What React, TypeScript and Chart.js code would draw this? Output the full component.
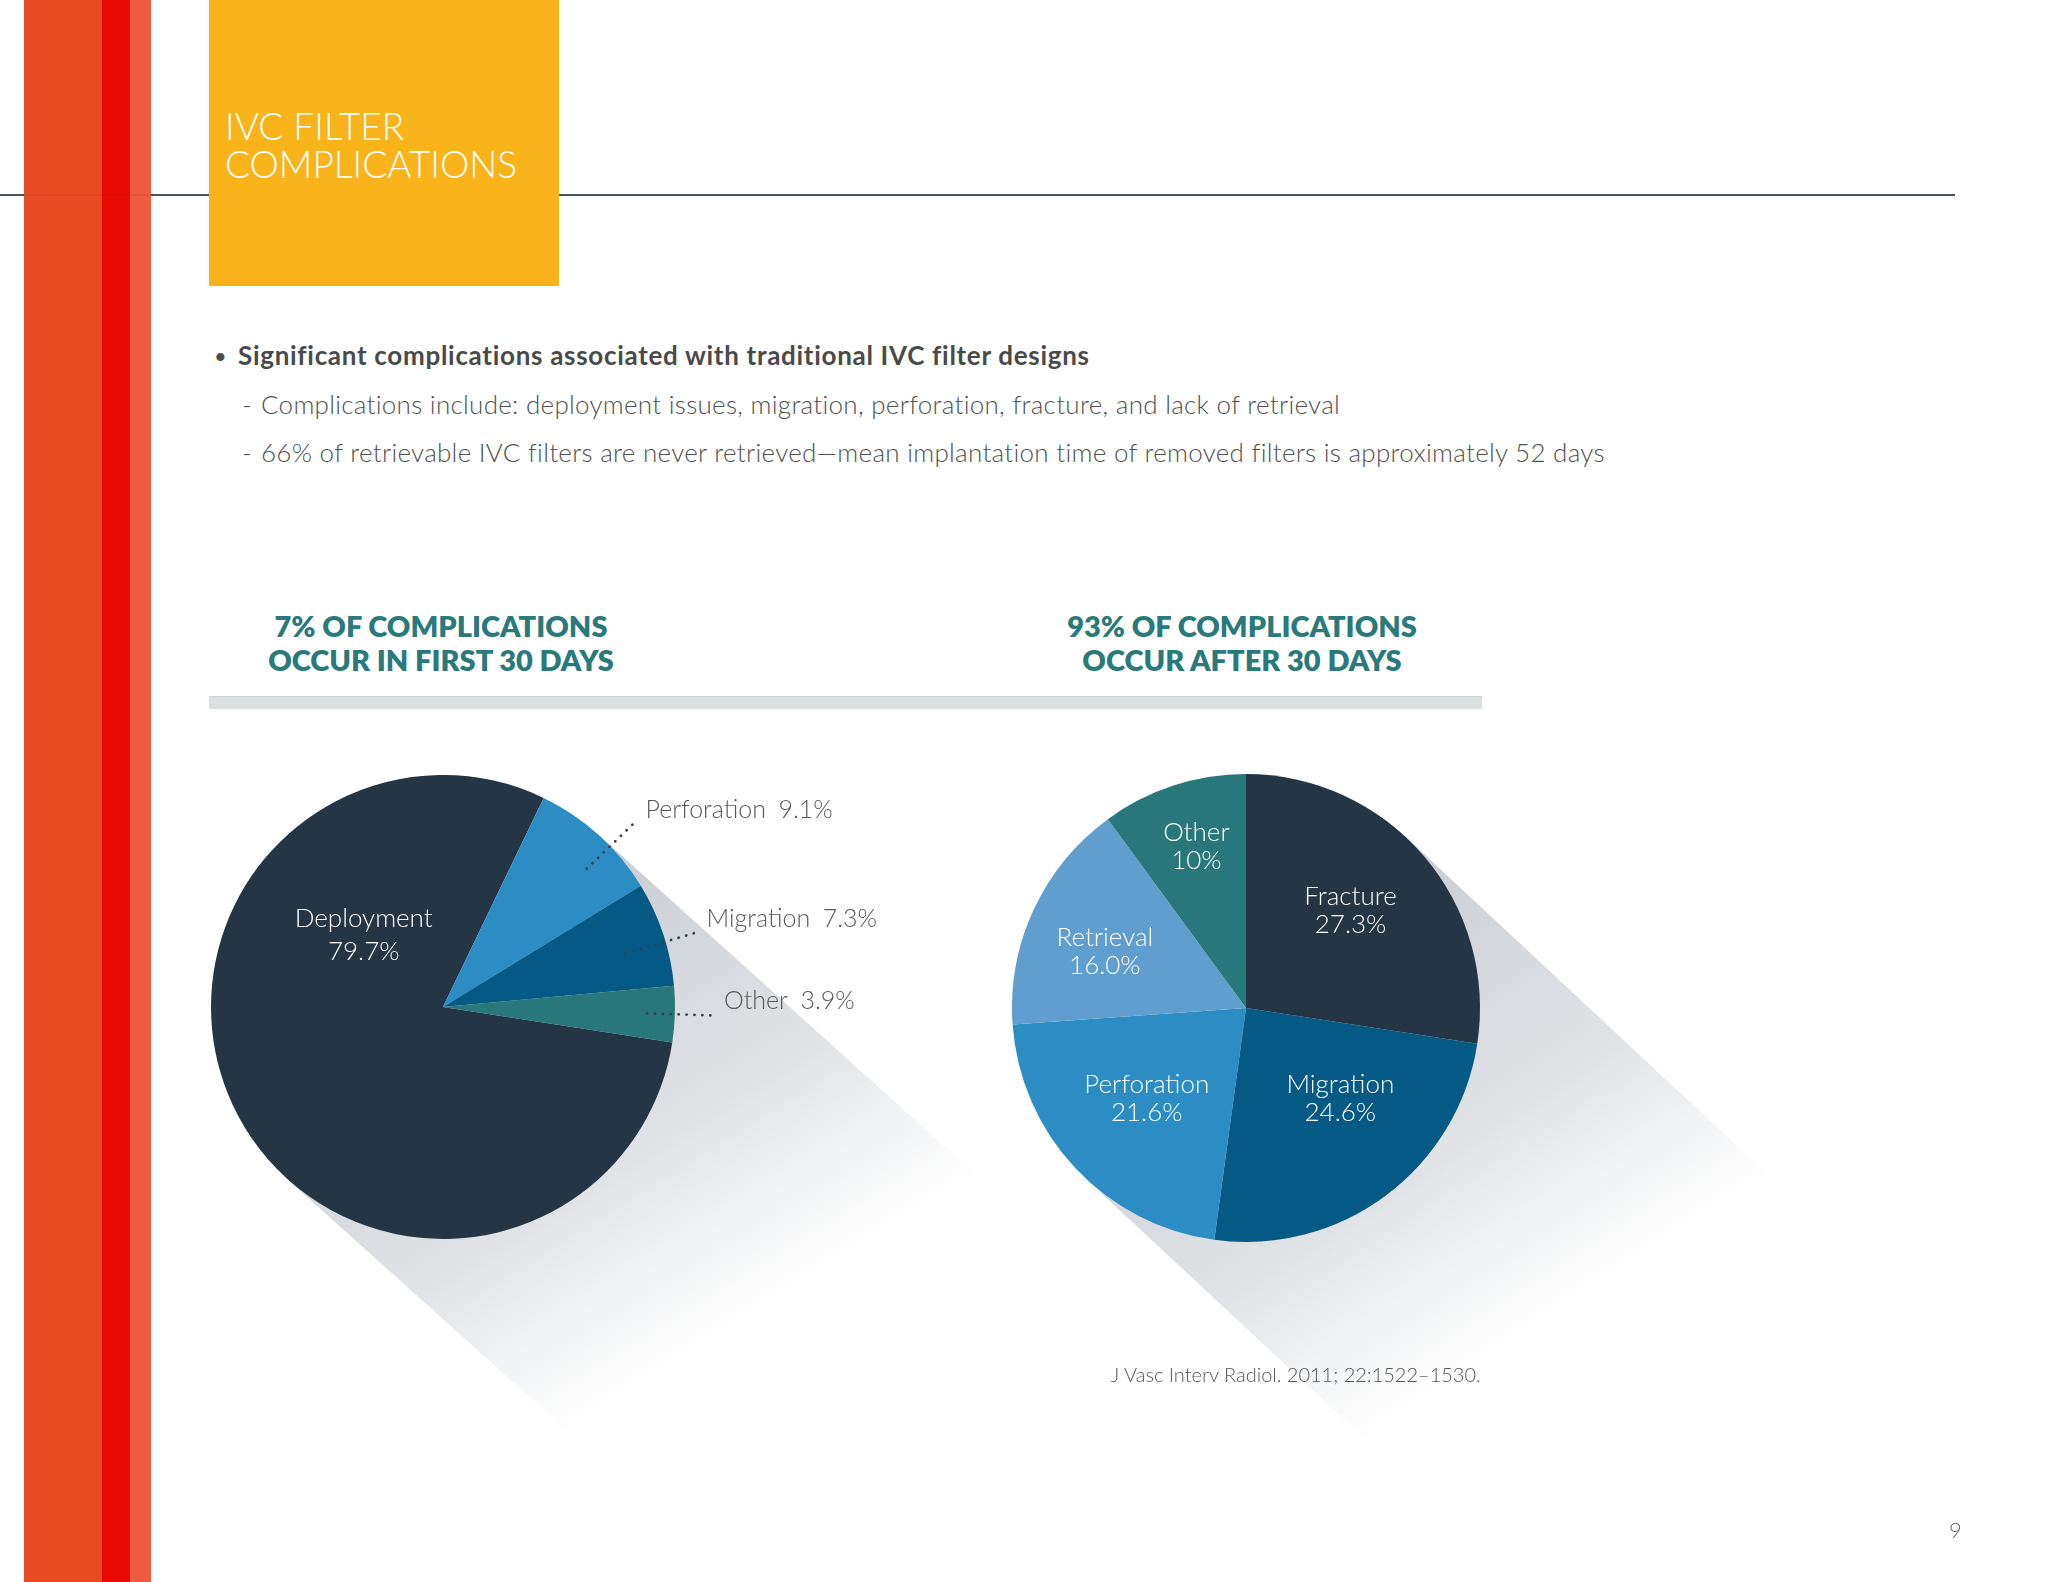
import React, { useEffect, useRef } from 'react';
import { Chart, registerables } from 'chart.js';

Chart.register(...registerables);

// ---------- data ----------
const earlyLabels = ['Deployment', 'Perforation', 'Migration', 'Other'];
const earlyValues = [79.7, 9.1, 7.3, 3.9];
const earlyValueText = ['79.7%', '9.1%', '7.3%', '3.9%'];
const earlyColors = ['#243545', '#2C8DC4', '#045A84', '#28777A'];

const lateLabels = ['Fracture', 'Migration', 'Perforation', 'Retrieval', 'Other'];
const lateValues = [27.3, 24.6, 21.6, 16.0, 10];
const lateValueText = ['27.3%', '24.6%', '21.6%', '16.0%', '10%'];
const lateColors = ['#243545', '#045A84', '#2C8DC4', '#5F9ECE', '#28777A'];

const titleLines = ['IVC FILTER', 'COMPLICATIONS'];
const bulletMain = 'Significant complications associated with traditional IVC filter designs';
const bulletSubs = [
  'Complications include: deployment issues, migration, perforation, fracture, and lack of retrieval',
  '66% of retrievable IVC filters are never retrieved\u2014mean implantation time of removed filters is approximately 52 days',
];
const earlyHeading = ['7% OF COMPLICATIONS', 'OCCUR IN FIRST 30 DAYS'];
const lateHeading = ['93% OF COMPLICATIONS', 'OCCUR AFTER 30 DAYS'];
const citation = 'J Vasc Interv Radiol. 2011; 22:1522\u20131530.';
const pageNumber = '9';

const FONT = 'Lato, "Open Sans", sans-serif';

// ---------- plugins ----------
const longShadow = {
  id: 'longShadow',
  beforeDatasetsDraw(chart: any, _args: any, opts: any) {
    const arc = chart.getDatasetMeta(0).data[0];
    if (!arc) return;
    const { x, y, outerRadius: r } = arc;
    const ctx = chart.ctx;
    const a = (opts.angle * Math.PI) / 180;
    const dx = Math.cos(a), dy = Math.sin(a);
    const px = -dy, py = dx;
    const L = 1600;
    ctx.save();
    ctx.beginPath();
    ctx.moveTo(x + px * r, y + py * r);
    ctx.lineTo(x + px * r + dx * L, y + py * r + dy * L);
    ctx.lineTo(x - px * r + dx * L, y - py * r + dy * L);
    ctx.lineTo(x - px * r, y - py * r);
    ctx.closePath();
    const g = (opts.fadeAngle * Math.PI) / 180;
    const gx = Math.cos(g), gy = Math.sin(g);
    const start = -r;
    const end = opts.fade;
    const grad = ctx.createLinearGradient(x + gx * start, y + gy * start, x + gx * end, y + gy * end);
    const span = end - start;
    grad.addColorStop(0, 'rgba(176,182,191,0.85)');
    grad.addColorStop((0 - start) / span, 'rgba(182,187,195,0.68)');
    grad.addColorStop((r - start) / span, 'rgba(188,193,200,0.45)');
    grad.addColorStop(1, 'rgba(200,204,210,0)');
    ctx.fillStyle = grad;
    ctx.fill();
    ctx.restore();
  },
};

const sliceLabels = {
  id: 'sliceLabels',
  afterDatasetsDraw(chart: any, _args: any, opts: any) {
    const ctx = chart.ctx;
    const arcs = chart.getDatasetMeta(0).data;
    const names: string[] = chart.data.labels;
    const texts: string[] = opts.valueText;
    const gap = opts.lineGap || 14;
    ctx.save();
    ctx.textBaseline = 'middle';
    (opts.inside || []).forEach((spec: any) => {
      const arc = arcs[spec.index];
      const mid = (arc.startAngle + arc.endAngle) / 2 + ((spec.da || 0) * Math.PI) / 180;
      const ang = spec.angle !== undefined ? ((spec.angle - 90) * Math.PI) / 180 : mid;
      const rr = arc.outerRadius * spec.r;
      const cx = arc.x + Math.cos(ang) * rr;
      const cy = arc.y + Math.sin(ang) * rr;
      ctx.fillStyle = '#ffffff';
      ctx.font = `300 ${opts.insideSize || 25}px ` + FONT;
      ctx.textAlign = 'center';
      ctx.fillText(names[spec.index], cx, cy - gap);
      ctx.fillText(texts[spec.index], cx, cy + gap);
    });
    (opts.outside || []).forEach((spec: any) => {
      const arc = arcs[spec.index];
      const mid = (arc.startAngle + arc.endAngle) / 2 + ((spec.da || 0) * Math.PI) / 180;
      const R = arc.outerRadius;
      const x0 = arc.x + Math.cos(mid) * R * spec.r0;
      const y0 = arc.y + Math.sin(mid) * R * spec.r0;
      const x1 = arc.x + Math.cos(mid) * R * spec.r1;
      const y1 = arc.y + Math.sin(mid) * R * spec.r1;
      ctx.strokeStyle = '#38414b';
      ctx.lineWidth = 2.8;
      ctx.lineCap = 'round';
      ctx.setLineDash([0.1, 7.8]);
      ctx.beginPath();
      ctx.moveTo(x0, y0);
      ctx.lineTo(x1, y1);
      ctx.stroke();
      ctx.setLineDash([]);
      ctx.fillStyle = '#585858';
      ctx.font = '300 25px ' + FONT;
      ctx.textAlign = 'left';
      ctx.fillText(names[spec.index] + '\u2002' + texts[spec.index], x1 + 12, y1 - 14);
    });
    ctx.restore();
  },
};

// ---------- chart component ----------
type PieProps = {
  labels: string[];
  values: number[];
  colors: string[];
  valueText: string[];
  rotation: number;
  radius: number;
  width: number;
  height: number;
  left: number;
  top: number;
  shadowAngle: number;
  fadeAngle: number;
  inside: any[];
  outside: any[];
  lineGap: number;
  insideSize: number;
  z: number;
};

function Pie(p: PieProps) {
  const ref = useRef<HTMLCanvasElement | null>(null);
  useEffect(() => {
    if (!ref.current) return;
    const chart = new Chart(ref.current, {
      type: 'pie',
      data: {
        labels: p.labels,
        datasets: [
          {
            data: p.values,
            backgroundColor: p.colors,
            borderWidth: 0,
            hoverBorderWidth: 0,
            hoverOffset: 0,
            offset: 0,
          },
        ],
      },
      options: {
        responsive: false,
        animation: false,
        events: [],
        rotation: p.rotation,
        devicePixelRatio: 1,
        layout: {
          padding: { left: 0, top: 0, right: p.width - 2 * p.radius, bottom: p.height - 2 * p.radius },
        },
        plugins: {
          legend: { display: false },
          tooltip: { enabled: false },
          title: { display: false },
          longShadow: { angle: p.shadowAngle, fadeAngle: p.fadeAngle, fade: 430 },
          sliceLabels: {
            valueText: p.valueText,
            inside: p.inside,
            outside: p.outside,
            lineGap: p.lineGap,
            insideSize: p.insideSize,
          },
        } as any,
      },
      plugins: [longShadow, sliceLabels],
    });
    return () => chart.destroy();
  }, []);
  return (
    <canvas
      ref={ref}
      width={p.width}
      height={p.height}
      style={{ position: 'absolute', left: p.left, top: p.top, width: p.width, height: p.height, zIndex: p.z }}
    />
  );
}

function Text(props: {
  x: number;
  y: number;
  size: number;
  weight?: number;
  color: string;
  children: React.ReactNode;
  align?: 'left' | 'center';
  z?: number;
  spacing?: number;
}) {
  const { x, y, size, weight = 300, color, children, align = 'left', z = 5, spacing = 0 } = props;
  const style: React.CSSProperties = {
    position: 'absolute',
    top: y - size * 0.53,
    fontFamily: FONT,
    fontSize: size,
    fontWeight: weight,
    lineHeight: `${size}px`,
    color,
    whiteSpace: 'nowrap',
    zIndex: z,
    letterSpacing: spacing,
  };
  if (align === 'center') {
    style.left = x - 600;
    style.width = 1200;
    style.textAlign = 'center';
  } else {
    style.left = x;
  }
  return <div style={style}>{children}</div>;
}

export default function App() {
  const leftR = 232;
  const rightR = 234;
  const leftC = { x: 443, y: 1007 };
  const rightC = { x: 1246, y: 1008 };
  return (
    <div
      style={{
        position: 'absolute',
        left: 0,
        top: 0,
        width: 2048,
        height: 1582,
        overflow: 'hidden',
        background: '#ffffff',
        fontFamily: FONT,
      }}
    >
      {/* horizontal rule */}
      <div style={{ position: 'absolute', left: 0, top: 194, width: 1955, height: 2, background: '#4a515b', zIndex: 1 }} />
      {/* stripes */}
      <div style={{ position: 'absolute', left: 24, top: 0, width: 78, height: 1582, background: '#E84A22', zIndex: 2 }} />
      <div style={{ position: 'absolute', left: 102, top: 0, width: 28, height: 1582, background: '#E80A03', zIndex: 2 }} />
      <div style={{ position: 'absolute', left: 130, top: 0, width: 21, height: 1582, background: '#EE5B3F', zIndex: 2 }} />
      <div style={{ position: 'absolute', left: 24, top: 194, width: 127, height: 2, background: 'rgba(120,40,20,0.10)', zIndex: 3 }} />
      {/* title box */}
      <div style={{ position: 'absolute', left: 209, top: 0, width: 350, height: 286, background: '#F9B31B', zIndex: 3 }} />
      <Text x={225} y={127} size={37} color="#ffffff" z={4}>{titleLines[0]}</Text>
      <Text x={225} y={165} size={37} color="#ffffff" z={4}>{titleLines[1]}</Text>

      {/* bullets */}
      <Text x={214} y={357} size={22} weight={400} color="#4d4d4d">{'\u2022'}</Text>
      <Text x={238} y={356} size={26} weight={700} color="#4a4a4a" spacing={0.7}>{bulletMain}</Text>
      {bulletSubs.map((s, i) => (
        <React.Fragment key={i}>
          <Text x={242} y={405 + i * 48} size={26} color="#505050">-</Text>
          <Text x={261} y={405 + i * 48} size={26} color="#505050" spacing={0.28}>{s}</Text>
        </React.Fragment>
      ))}

      {/* headings */}
      {earlyHeading.map((s, i) => (
        <Text key={'e' + i} x={441} y={626 + i * 34} size={29} weight={800} color="#2A7A7C" align="center">{s}</Text>
      ))}
      {lateHeading.map((s, i) => (
        <Text key={'l' + i} x={1242} y={626 + i * 34} size={29} weight={800} color="#2A7A7C" align="center">{s}</Text>
      ))}
      <div
        style={{
          position: 'absolute',
          left: 209,
          top: 696,
          width: 1273,
          height: 13,
          background: '#DADFDF',
          borderTop: '1px solid #CDD3D3',
          boxSizing: 'border-box',
          zIndex: 2,
        }}
      />

      {/* charts */}
      <Pie
        labels={earlyLabels}
        values={earlyValues}
        colors={earlyColors}
        valueText={earlyValueText}
        rotation={98.8}
        radius={leftR}
        width={1150}
        height={800}
        left={leftC.x - leftR}
        top={leftC.y - leftR}
        shadowAngle={42}
        fadeAngle={58}
        inside={[{ index: 0, angle: 312, r: 0.46 }]}
        outside={[
          { index: 1, da: 4, r0: 0.86, r1: 1.14 },
          { index: 2, da: 2, r0: 0.82, r1: 1.13 },
          { index: 3, da: 0, r0: 0.88, r1: 1.16 },
        ]}
        lineGap={16.5}
        insideSize={26}
        z={6}
      />
      <Pie
        labels={lateLabels}
        values={lateValues}
        colors={lateColors}
        valueText={lateValueText}
        rotation={0}
        radius={rightR}
        width={1000}
        height={800}
        left={rightC.x - rightR}
        top={rightC.y - rightR}
        shadowAngle={43}
        fadeAngle={57}
        inside={[
          { index: 0, r: 0.611, da: -2.4 },
          { index: 1, r: 0.56, da: -9.3 },
          { index: 2, r: 0.575, da: 0.7 },
          { index: 3, r: 0.65, da: -3 },
          { index: 4, r: 0.722, da: 1 },
        ]}
        outside={[]}
        lineGap={14}
        insideSize={26}
        z={7}
      />

      {/* citation & page number */}
      <Text x={1111} y={1375} size={20} color="#555555" z={10}>{citation}</Text>
      <Text x={1949} y={1531} size={22} color="#666666" z={10}>{pageNumber}</Text>
    </div>
  );
}
